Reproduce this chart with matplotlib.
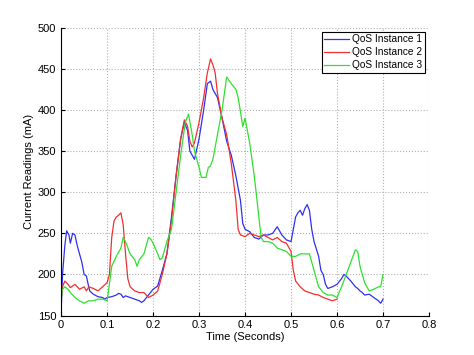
import matplotlib
matplotlib.use('Agg')
import matplotlib.pyplot as plt

# QoS Instance 1
t1 = [0, 0.003, 0.008, 0.012, 0.017, 0.020, 0.025, 0.030, 0.035, 0.045, 0.050,
      0.055, 0.058, 0.062, 0.07, 0.08, 0.09, 0.095, 0.1, 0.11, 0.12, 0.125,
      0.13, 0.135, 0.14, 0.15, 0.16, 0.17, 0.175, 0.18, 0.19, 0.2, 0.21, 0.22,
      0.23, 0.24, 0.25, 0.26, 0.268, 0.275, 0.28, 0.29, 0.3, 0.31, 0.318,
      0.325, 0.33, 0.34, 0.35, 0.36, 0.37, 0.38, 0.39, 0.395, 0.40, 0.41,
      0.42, 0.43, 0.44, 0.45, 0.46, 0.47, 0.48, 0.49, 0.5, 0.505, 0.51, 0.515,
      0.52, 0.525, 0.53, 0.535, 0.54, 0.545, 0.55, 0.56, 0.565, 0.57, 0.575,
      0.58, 0.59, 0.6, 0.61, 0.615, 0.62, 0.63, 0.64, 0.645, 0.65, 0.655,
      0.66, 0.67, 0.68, 0.69, 0.695, 0.7]
v1 = [155, 200, 235, 253, 248, 238, 250, 248, 235, 215, 200,
      198, 190, 180, 176, 173, 172, 170, 172, 173, 175, 177,
      176, 172, 174, 172, 170, 168, 166, 168, 175, 182, 186, 205,
      225, 270, 320, 365, 385, 375, 350, 340, 365, 400, 432,
      435, 425, 415, 390, 362, 345, 320, 290, 262, 255, 252,
      245, 243, 248, 248, 250, 258, 248, 242, 240, 255, 270, 275,
      278, 272, 280, 285, 278, 255, 240, 222, 205, 200, 188,
      183, 185, 188, 195, 200, 198, 192, 185, 183, 180, 178,
      175, 176, 172, 168, 165, 170]

# QoS Instance 2
t2 = [0, 0.003, 0.008, 0.015, 0.02, 0.03, 0.04, 0.05, 0.055, 0.06, 0.07,
      0.08, 0.09, 0.1, 0.105, 0.11, 0.115, 0.12, 0.125, 0.13, 0.135, 0.14,
      0.145, 0.15, 0.16, 0.17, 0.18, 0.185, 0.19, 0.2, 0.21, 0.22, 0.23,
      0.24, 0.25, 0.26, 0.268, 0.275, 0.28, 0.285, 0.29, 0.3, 0.31, 0.318,
      0.325, 0.33, 0.335, 0.34, 0.35, 0.36, 0.37, 0.38, 0.385, 0.39, 0.40,
      0.41, 0.42, 0.43, 0.44, 0.45, 0.46, 0.47, 0.48, 0.49, 0.5, 0.505, 0.51,
      0.52, 0.53, 0.54, 0.55, 0.56, 0.57, 0.58, 0.59, 0.6]
v2 = [170, 185, 192, 188, 184, 188, 182, 185, 180, 185, 183,
      180, 185, 190, 200, 245, 265, 270, 272, 275, 260, 225,
      195, 185, 180, 178, 178, 175, 172, 175, 180, 200, 225,
      265, 320, 365, 388, 380, 362, 355, 360, 385, 415, 445,
      462, 455, 445, 420, 390, 370, 335, 290, 255, 248, 246,
      250, 248, 246, 248, 245, 242, 245, 240, 238, 228, 205, 192,
      185, 180, 178, 176, 175, 172, 170, 168, 170]

# QoS Instance 3
t3 = [0, 0.003, 0.008, 0.015, 0.02, 0.03, 0.04, 0.05, 0.06, 0.07, 0.08, 0.09,
      0.1, 0.103, 0.11, 0.12, 0.13, 0.135, 0.14, 0.15, 0.16, 0.165, 0.17,
      0.18, 0.185, 0.19, 0.195, 0.2, 0.21, 0.215, 0.22, 0.23, 0.24, 0.25,
      0.26, 0.27, 0.277, 0.285, 0.29, 0.3, 0.305, 0.315, 0.32, 0.325, 0.33,
      0.34, 0.35, 0.36, 0.37, 0.38, 0.385, 0.39, 0.395, 0.4, 0.41, 0.42,
      0.43, 0.435, 0.44, 0.45, 0.46, 0.47, 0.48, 0.49, 0.5, 0.51, 0.52, 0.53,
      0.54, 0.55, 0.56, 0.57, 0.58, 0.59, 0.6, 0.61, 0.62, 0.63, 0.64, 0.645,
      0.65, 0.66, 0.67, 0.68, 0.69, 0.695, 0.7]
v3 = [170, 182, 185, 182, 178, 172, 168, 165, 168, 168, 170, 170,
      168, 180, 210, 222, 232, 245, 240, 225, 218, 210, 218,
      225, 235, 245, 243, 238, 225, 218, 220, 240, 255, 300,
      345, 385, 395, 370, 350, 330, 318, 318, 330, 332, 340,
      370, 400, 440, 432, 425, 415, 398, 380, 390, 360, 320,
      270, 245, 240, 240, 238, 232, 230, 228, 222, 222, 225, 225,
      225, 205, 185, 178, 175, 175, 172, 185, 200, 215, 230, 228,
      210, 190, 180, 182, 185, 185, 200]

labels = ['QoS Instance 1', 'QoS Instance 2', 'QoS Instance 3']

plt.rcParams['font.family'] = ['Liberation Sans', 'DejaVu Sans']

fig = plt.figure(figsize=(4.74, 3.55), dpi=100)
ax = fig.add_axes([0.129, 0.111, 0.776, 0.811])

ax.plot(t1, v1, color='#3030f0', lw=0.9, label=labels[0])
ax.plot(t2, v2, color='#f03030', lw=0.9, label=labels[1])
ax.plot(t3, v3, color='#30e030', lw=0.9, label=labels[2])

ax.set_xlim(0, 0.8)
ax.set_ylim(150, 500)
ax.set_xticks([0, 0.1, 0.2, 0.3, 0.4, 0.5, 0.6, 0.7, 0.8])
ax.set_xticklabels(['0', '0.1', '0.2', '0.3', '0.4', '0.5', '0.6', '0.7', '0.8'])
ax.set_yticks(range(150, 501, 50))

ax.grid(True, linestyle=':', color='#b0b0b0', lw=0.8)
ax.spines['top'].set_visible(False)
ax.spines['right'].set_visible(False)
ax.tick_params(direction='in', labelsize=8, length=3)

ax.set_xlabel('Time (Seconds)', fontsize=8, labelpad=1)
ax.set_ylabel('Current Readings (mA)', fontsize=8, labelpad=3)

leg = ax.legend(loc='upper right', fontsize=7.3, fancybox=False, framealpha=1,
                borderpad=0.25, labelspacing=0.3, handlelength=2.4,
                handletextpad=0.35, borderaxespad=0.4)
leg.get_frame().set_edgecolor('black')
leg.get_frame().set_linewidth(0.8)

fig.savefig('out.png', dpi=100)
